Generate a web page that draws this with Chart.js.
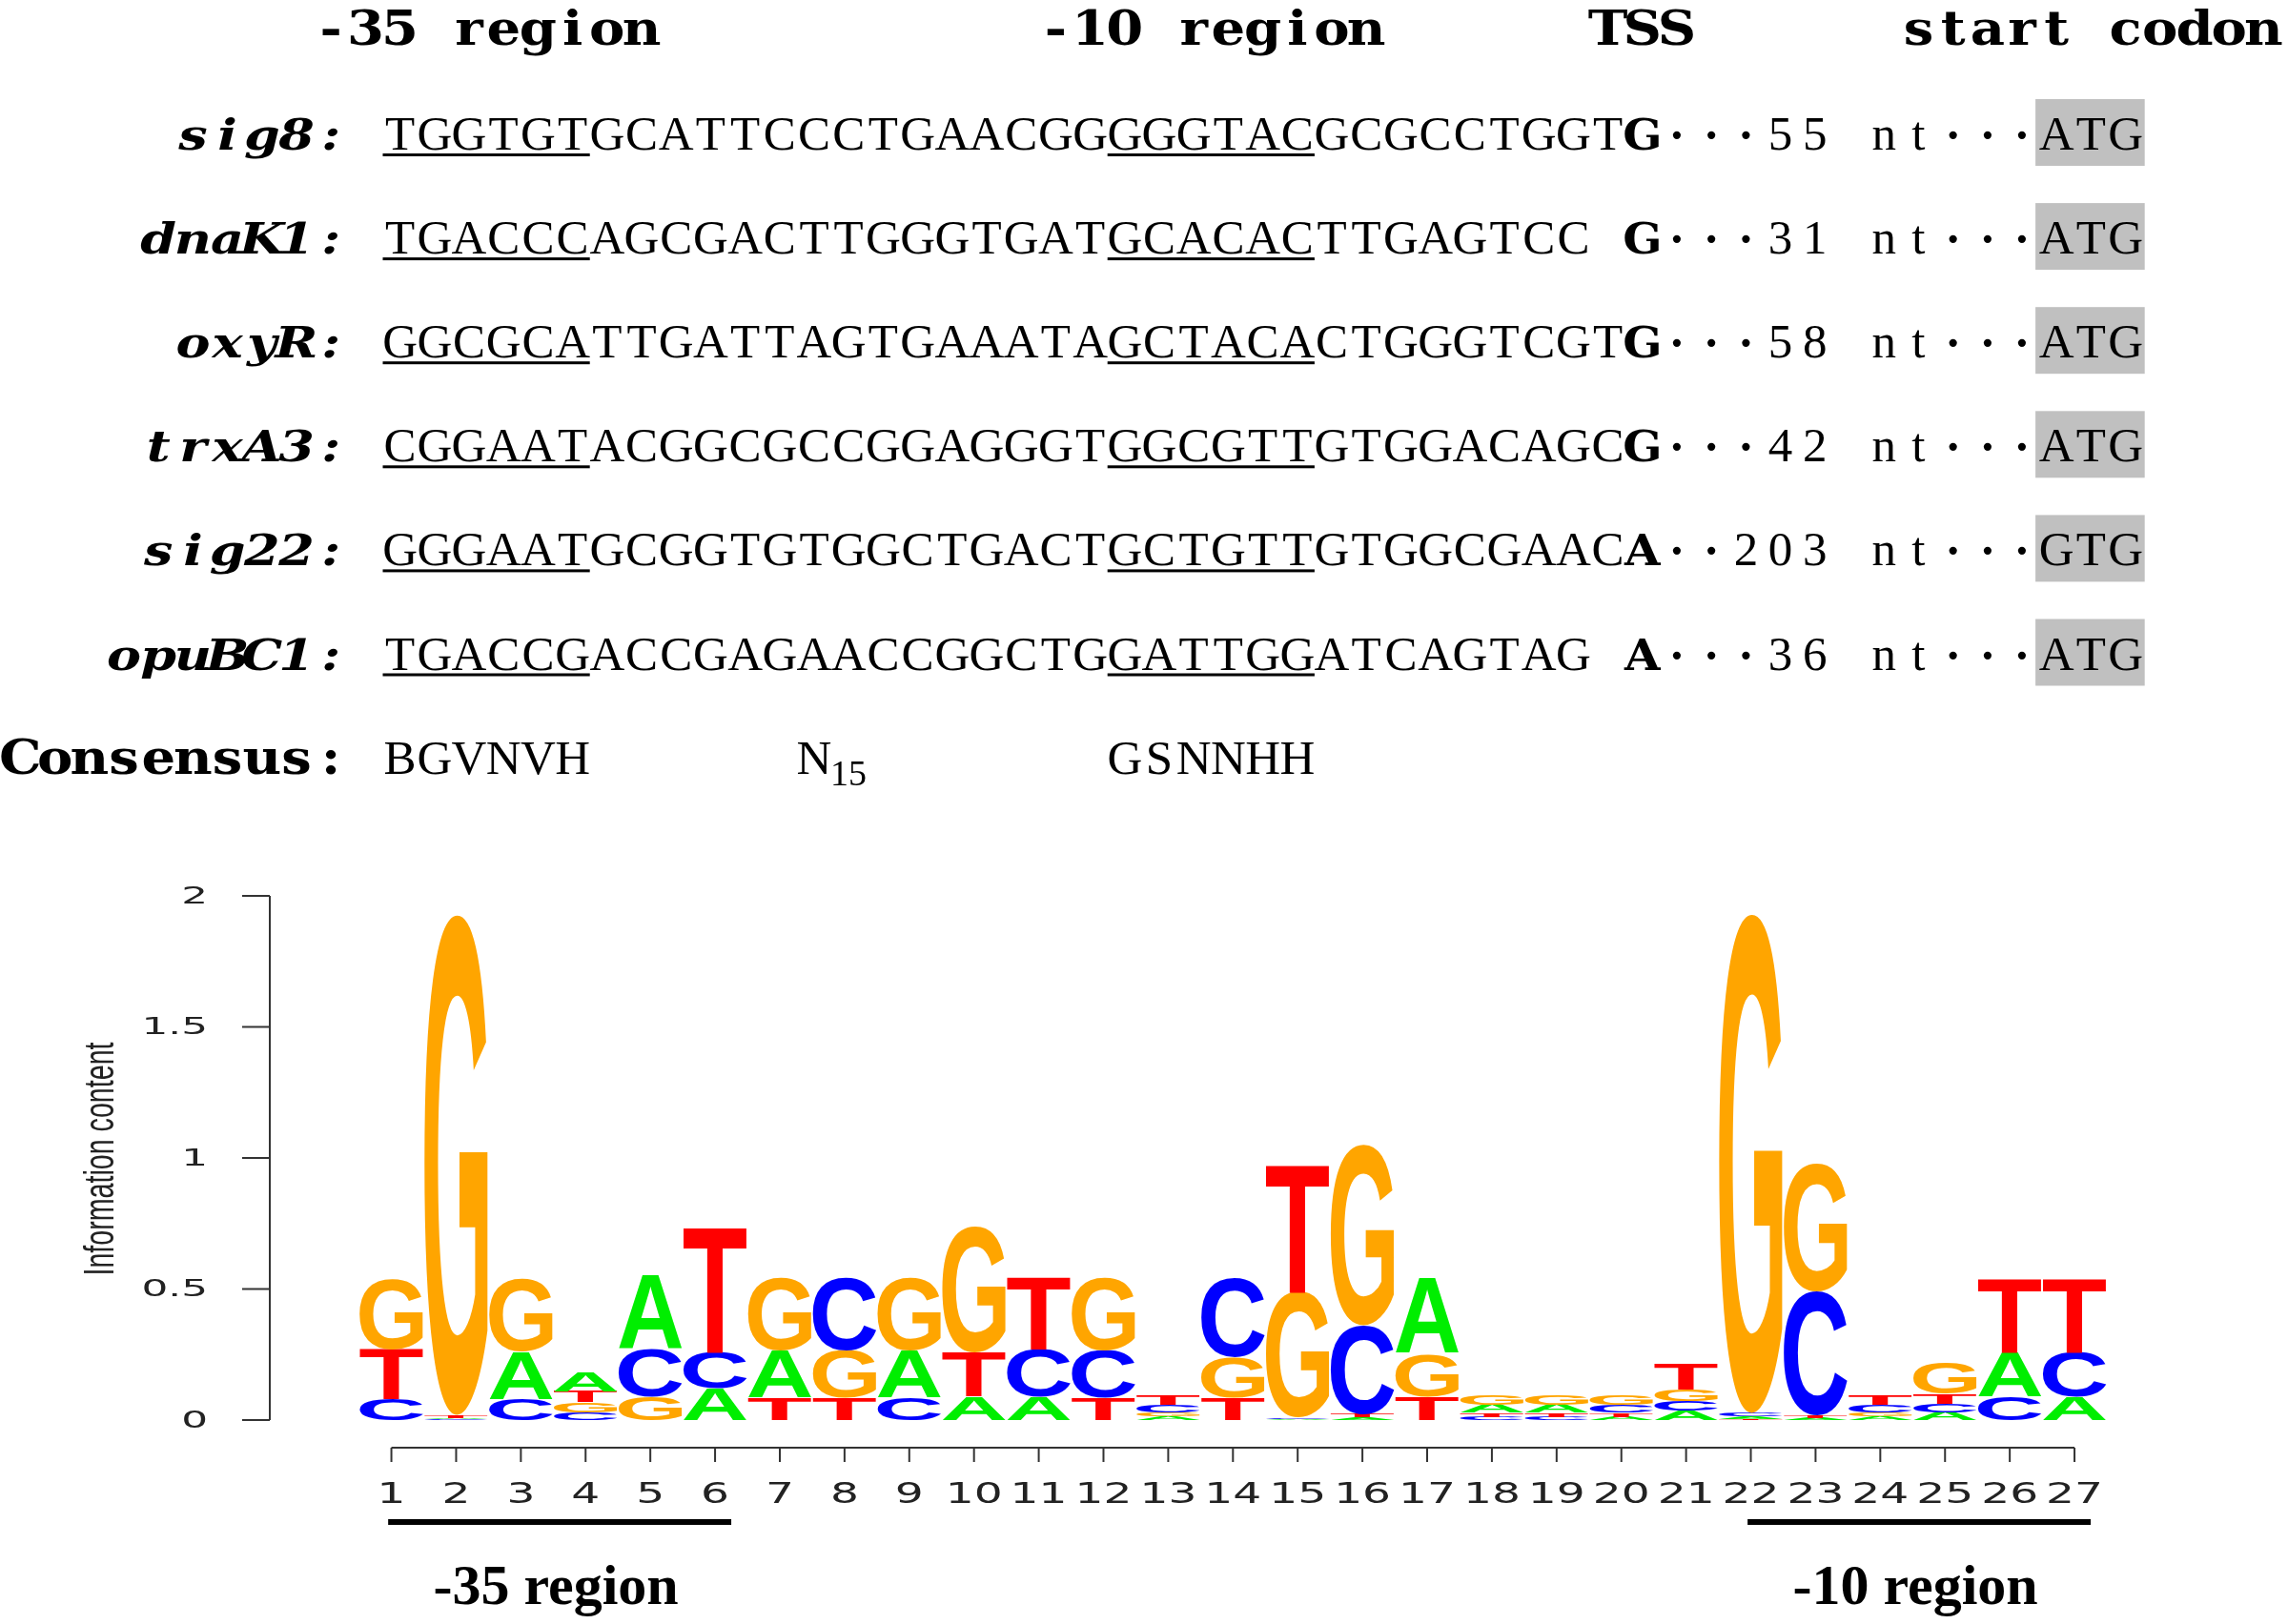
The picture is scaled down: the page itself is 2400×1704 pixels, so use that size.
<!DOCTYPE html>
<html>
<head>
<meta charset="utf-8">
<title>Promoter alignment and sequence logo</title>
<script src="https://cdn.jsdelivr.net/npm/chart.js@4.4.0/dist/chart.umd.min.js"></script>
<style>
  html, body { margin: 0; padding: 0; background: #fff; }
</style>
</head>
<body>
<canvas id="logo" width="2400" height="1704"></canvas>
<script>
// alignment, one entry per promoter
const promoters = ['sig8', 'dnaK1', 'oxyR', 'trxA3', 'sig22', 'opuBC1'];
const box35 = ['TGGTGT', 'TGACCC', 'GGCGCA', 'CGGAAT', 'GGGAAT', 'TGACCG'];
const spacer = ['GCATTCCCTGAACGG', 'AGCGACTTGGGTGAT', 'TTGATTAGTGAAATA', 'ACGGCGCCGGAGGGT', 'GCGGTGTGGCTGACT', 'ACCGAGAACCGGCTG'];
const box10 = ['GGGTAC', 'GCACAC', 'GCTACA', 'GGCGTT', 'GCTGTT', 'GATTGG'];
const downstream = ['GCGCCTGGT', 'TTGAGTCC ', 'CTGGGTCGT', 'GTGGACAGC', 'GTGGCGAAC', 'ATCAGTAG '];
const tss = ['G', 'G', 'G', 'G', 'A', 'A'];
const distance = ['55', '31', '58', '42', '203', '36'];
const startCodon = ['ATG', 'ATG', 'ATG', 'ATG', 'GTG', 'ATG'];
const consensus = ['BGVNVH', 'N', '15', 'GSNNHH'];
const headers = ['-35 region', '-10 region', 'TSS', 'start codon'];

// sequence logo (information content in bits, per position)
const positions = ['1', '2', '3', '4', '5', '6', '7', '8', '9', '10', '11', '12', '13', '14',
  '15', '16', '17', '18', '19', '20', '21', '22', '23', '24', '25', '26', '27'];
const bitsA = [0, 0.005, 0.18, 0.075, 0.28, 0.12, 0.18, 0, 0.18, 0.09, 0.09, 0, 0.014, 0,
  0.004, 0.01, 0.285, 0.03, 0.03, 0.012, 0.035, 0.01, 0.008, 0.014, 0.03, 0.17, 0.09];
const bitsC = [0.08, 0.004, 0.08, 0.03, 0.18, 0.14, 0, 0.28, 0.085, 0, 0.18, 0.18, 0.03, 0.30,
  0.006, 0.34, 0, 0.012, 0.012, 0.03, 0.038, 0.012, 0.475, 0.03, 0.033, 0.09, 0.17];
const bitsG = [0.27, 1.91, 0.28, 0.038, 0.09, 0, 0.28, 0.18, 0.28, 0.48, 0, 0.28, 0.016, 0.155,
  0.478, 0.69, 0.165, 0.04, 0.04, 0.04, 0.045, 1.905, 0.49, 0.016, 0.12, 0, 0];
const bitsT = [0.19, 0.01, 0, 0.042, 0, 0.48, 0.085, 0.085, 0, 0.17, 0.275, 0.085, 0.035, 0.085,
  0.486, 0.012, 0.09, 0.016, 0.016, 0.015, 0.1, 0.005, 0.01, 0.035, 0.036, 0.28, 0.28];
const yTicks = [0, 0.5, 1, 1.5, 2];
const yTickLabels = ['0', '0.5', '1', '1.5', '2'];
const regions = [['-35 region', 1, 6], ['-10 region', 22, 27]];

const letterColors = { A: '#00ee00', C: '#0000ff', G: '#ffa500', T: '#ff0000' };
const byLetter = { A: bitsA, C: bitsC, G: bitsG, T: bitsT };

// smallest letter at the bottom of each column, largest on top
const layers = [0, 1, 2, 3].map(() => ({ data: [], letters: [] }));
positions.forEach((p, i) => {
  const col = Object.keys(byLetter).map(l => ({ l: l, h: byLetter[l][i] }));
  col.sort((a, b) => a.h - b.h);
  col.forEach((c, k) => {
    layers[k].data.push(c.h);
    layers[k].letters.push(c.l);
  });
});

const GLYPH_FONT = 'bold 200px "Liberation Sans", Arial, sans-serif';
const glyphCache = {};
function glyphBox(ctx, ch) {
  if (!glyphCache[ch]) {
    ctx.font = GLYPH_FONT;
    ctx.textAlign = 'left';
    ctx.textBaseline = 'alphabetic';
    const m = ctx.measureText(ch);
    glyphCache[ch] = { l: m.actualBoundingBoxLeft, r: m.actualBoundingBoxRight,
      a: m.actualBoundingBoxAscent, d: m.actualBoundingBoxDescent };
  }
  return glyphCache[ch];
}

function drawGlyph(ctx, ch, x, y, w, h, color) {
  const b = glyphBox(ctx, ch);
  ctx.save();
  ctx.translate(x, y);
  ctx.scale(w / (b.l + b.r), h / (b.a + b.d));
  ctx.font = GLYPH_FONT;
  ctx.textAlign = 'left';
  ctx.textBaseline = 'alphabetic';
  ctx.fillStyle = color;
  ctx.fillText(ch, b.l, b.a);
  ctx.restore();
}

// text squeezed or widened horizontally like in the figure
function stretchText(ctx, text, x, y, sx, align) {
  ctx.save();
  ctx.translate(x, y);
  ctx.scale(sx, 1);
  ctx.textAlign = align;
  ctx.fillText(text, 0, 0);
  ctx.restore();
}

// monospaced grid of the alignment
const X0 = 401.5, CELL = 36.2;
function cellX(i) { return X0 + CELL * i; }
function putChars(ctx, str, startCell, baseline, font, sx) {
  ctx.font = font;
  ctx.textBaseline = 'alphabetic';
  for (let k = 0; k < str.length; k++) {
    if (str[k] === ' ') continue;
    stretchText(ctx, str[k], cellX(startCell + k) + CELL / 2, baseline, sx, 'center');
  }
}

const SEQ_FONT = '51px "Liberation Serif", serif';
const SEQ_SX = 1.0;
const BOLD_FONT = 'bold 44px "DejaVu Serif", serif';
const LABEL_FONT = 'italic bold 45px "DejaVu Serif", serif';
const HEAD_FONT = 'bold 50px "DejaVu Serif", serif';

function drawAlignment(ctx) {
  ctx.fillStyle = '#000';
  const headCells = [-2, 19, 35, 44];
  headers.forEach((h, i) => putChars(ctx, h, headCells[i], 47, HEAD_FONT, 1.12));

  promoters.forEach((name, r) => {
    const base = 157 + 109.1 * r;
    const label = name + ':';
    putChars(ctx, label, -1 - label.length, base, LABEL_FONT, 1.2);

    const seq = box35[r] + spacer[r] + box10[r] + downstream[r];
    putChars(ctx, seq, 0, base, SEQ_FONT, SEQ_SX);
    ctx.fillRect(cellX(0), base + 4, CELL * 6, 3);
    ctx.fillRect(cellX(21), base + 4, CELL * 6, 3);

    putChars(ctx, tss[r], seq.length, base, BOLD_FONT, 1.1);
    const nDots = 5 - distance[r].length;
    putChars(ctx, '·'.repeat(nDots), 37, base, BOLD_FONT, 1);
    putChars(ctx, distance[r] + ' nt', 37 + nDots, base, SEQ_FONT, SEQ_SX);
    putChars(ctx, '···', 45, base, BOLD_FONT, 1);

    ctx.fillStyle = '#c0c0c0';
    ctx.fillRect(cellX(48) - 4, base - 53, CELL * 3 + 6, 70);
    ctx.fillStyle = '#000';
    putChars(ctx, startCodon[r], 48, base, SEQ_FONT, SEQ_SX);
  });

  const cb = 157 + 109.1 * 6;
  putChars(ctx, 'Consensus:', -11, cb, 'bold 50px "DejaVu Serif", serif', 1.12);
  putChars(ctx, consensus[0], 0, cb, SEQ_FONT, SEQ_SX);
  putChars(ctx, consensus[1], 12, cb, SEQ_FONT, SEQ_SX);
  ctx.font = '38px "Liberation Serif", serif';
  ctx.textAlign = 'left';
  ctx.fillText(consensus[2], cellX(13) - 1, cb + 12);
  putChars(ctx, consensus[3], 21, cb, SEQ_FONT, SEQ_SX);
}

const logoPlugin = {
  id: 'logoPlugin',
  beforeDraw(chart) {
    const ctx = chart.ctx;
    ctx.save();
    ctx.fillStyle = '#fff';
    ctx.fillRect(0, 0, chart.width, chart.height);
    ctx.restore();
  },
  afterDatasetsDraw(chart) {
    const ctx = chart.ctx;
    chart.data.datasets.forEach((ds, i) => {
      const meta = chart.getDatasetMeta(i);
      meta.data.forEach((bar, j) => {
        const p = bar.getProps(['x', 'y', 'base', 'width'], true);
        const h = p.base - p.y;
        if (h < 0.6) return;
        const l = ds.letters[j];
        drawGlyph(ctx, l, p.x - p.width / 2, p.y, p.width, h, letterColors[l]);
      });
    });
  },
  afterDraw(chart) {
    const ctx = chart.ctx;
    const xs = chart.scales.x, ys = chart.scales.y;
    ctx.save();
    drawAlignment(ctx);

    // y axis
    ctx.strokeStyle = '#333';
    ctx.fillStyle = '#222';
    ctx.lineWidth = 2;
    const ax = 283;
    ctx.beginPath();
    ctx.moveTo(ax, ys.getPixelForValue(yTicks[0]));
    ctx.lineTo(ax, ys.getPixelForValue(yTicks[yTicks.length - 1]));
    ctx.stroke();
    ctx.font = '25px "DejaVu Sans", sans-serif';
    ctx.textBaseline = 'middle';
    yTicks.forEach((v, i) => {
      const py = ys.getPixelForValue(v);
      ctx.beginPath();
      ctx.moveTo(ax - 29, py);
      ctx.lineTo(ax, py);
      ctx.stroke();
      stretchText(ctx, yTickLabels[i], 218, py + 1, 1.75, 'right');
    });

    // axis title
    const title = 'Information content';
    ctx.font = '34px "Liberation Sans Narrow", "Liberation Sans", sans-serif';
    const tw = ctx.measureText(title).width;
    ctx.save();
    ctx.translate(103, 1216);
    ctx.rotate(-Math.PI / 2);
    ctx.scale(245 / tw, 1.33);
    ctx.textAlign = 'center';
    ctx.textBaseline = 'alphabetic';
    ctx.fillText(title, 0, 12.4);
    ctx.restore();

    // x axis below the plot
    const ly = 1519;
    ctx.beginPath();
    ctx.moveTo(xs.getPixelForValue(0), ly);
    ctx.lineTo(xs.getPixelForValue(positions.length - 1), ly);
    ctx.stroke();
    ctx.font = '30px "DejaVu Sans", sans-serif';
    ctx.textBaseline = 'alphabetic';
    positions.forEach((p, i) => {
      const px = xs.getPixelForValue(i);
      ctx.beginPath();
      ctx.moveTo(px, ly);
      ctx.lineTo(px, ly + 15);
      ctx.stroke();
      stretchText(ctx, p, px, 1577, 1.57, 'center');
    });

    // promoter element bars
    ctx.fillStyle = '#000';
    const step = xs.getPixelForValue(1) - xs.getPixelForValue(0);
    regions.forEach(([name, from, to]) => {
      const x1 = xs.getPixelForValue(from - 1) - 0.05 * step;
      const x2 = xs.getPixelForValue(to - 1) + 0.25 * step;
      ctx.fillRect(x1, 1594, x2 - x1, 6);
      ctx.font = 'bold 60px "Liberation Serif", serif';
      ctx.textAlign = 'center';
      ctx.fillText(name, (x1 + x2) / 2 - 4, 1683);
    });
    ctx.restore();
  }
};

new Chart(document.getElementById('logo'), {
  type: 'bar',
  data: {
    labels: positions,
    datasets: layers.map((layer, k) => ({
      label: 'layer ' + (k + 1),
      data: layer.data,
      letters: layer.letters,
      backgroundColor: 'rgba(0,0,0,0)',
      borderWidth: 0,
      stack: 'logo',
      categoryPercentage: 0.98,
      barPercentage: 1
    }))
  },
  options: {
    responsive: false,
    animation: false,
    layout: { padding: { left: 376.6, right: 190, top: 940, bottom: 214 } },
    scales: {
      x: { display: false, stacked: true },
      y: { display: false, stacked: true, min: 0, max: 2 }
    },
    plugins: { legend: { display: false }, tooltip: { enabled: false } }
  },
  plugins: [logoPlugin]
});
</script>
</body>
</html>
